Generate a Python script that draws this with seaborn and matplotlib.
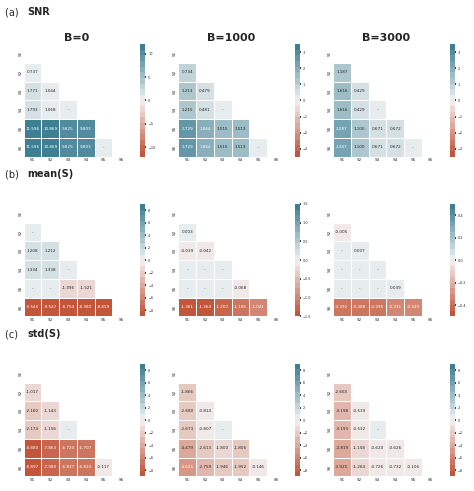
import numpy as np
import matplotlib
matplotlib.use("Agg")
import matplotlib.pyplot as plt
import seaborn as sns

labels = ["S1", "S2", "S3", "S4", "S5", "S6"]
blocks = ["B=0", "B=1000", "B=3000"]
N = None  # not significant, shown as "-"

snr_b0 = [[0.737], [1.771, 1.044], [1.793, 1.068, N],
          [11.596, 10.869, 9.825, 9.803], [11.596, 10.869, 9.825, 9.803, N]]
snr_b1000 = [[0.734], [1.213, 0.479], [1.215, 0.481, N],
             [2.729, 1.864, 1.515, 1.513], [2.729, 1.864, 1.515, 1.513, N]]
snr_b3000 = [[1.187], [1.616, 0.429], [1.616, 0.429, N],
             [2.287, 1.100, 0.671, 0.672], [2.287, 1.100, 0.671, 0.672, N]]

mean_b0 = [[N], [1.208, 1.212], [1.334, 1.338, N],
           [N, N, -1.396, -1.521], [-9.544, -9.542, -8.754, -8.38, -8.859]]
mean_b1000 = [[0.003], [-0.039, -0.042], [N, N, N],
              [N, N, N, -0.068], [-1.361, -1.364, -1.202, -1.106, -1.041]]
mean_b3000 = [[-0.005], [N, 0.007], [N, N, N],
              [N, N, N, 0.039], [-0.392, -0.388, -0.395, -0.331, -0.349]]

std_b0 = [[-1.017], [-2.160, -1.143], [-2.174, -1.156, N],
          [-8.880, -7.863, -6.720, -6.707], [-8.897, -7.980, -6.837, -6.824, -0.117]]
std_b1000 = [[-1.866], [-2.680, -0.814], [-2.673, -0.807, N],
             [-4.479, -2.613, -1.800, -1.806], [-4.625, -2.759, -1.946, -1.952, -0.146]]
std_b3000 = [[-2.660], [-3.198, -0.539], [-3.193, -0.532, N],
             [-3.819, -1.158, -0.620, -0.626], [-3.925, -1.264, -0.726, -0.732, -0.106]]

rows = [("(a) ", "SNR", [snr_b0, snr_b1000, snr_b3000], [12, 3.5, 3.5]),
        ("(b) ", "mean(S)", [mean_b0, mean_b1000, mean_b3000], [9, 1.5, 0.5]),
        ("(c) ", "std(S)", [std_b0, std_b1000, std_b3000], [9, 9, 9])]

cmap = matplotlib.colors.ListedColormap(sns.diverging_palette(20, 220, n=20))

sns.set_theme(style="white")
fig, axes = plt.subplots(3, 3, figsize=(4.74, 4.91), dpi=100)
plt.subplots_adjust(left=0.05, right=0.97, top=0.91, bottom=0.03, hspace=0.42, wspace=0.22)

for r, (pre, name, mats, lims) in enumerate(rows):
    for c in range(3):
        ax = axes[r, c]
        vals = np.full((6, 6), np.nan)
        annot = np.full((6, 6), "", dtype=object)
        for i, row in enumerate(mats[c]):
            for j, v in enumerate(row):
                vals[i + 1, j] = 0.0 if v is None else v
                annot[i + 1, j] = "-" if v is None else f"{v:.3f}"
        sns.heatmap(vals, mask=np.isnan(vals), cmap=cmap, vmin=-lims[c], vmax=lims[c],
                    annot=annot, fmt="", annot_kws={"size": 3},
                    linewidths=0.4, linecolor="white", square=False, ax=ax,
                    xticklabels=labels, yticklabels=labels,
                    cbar_kws={"fraction": 0.08, "pad": 0.08, "aspect": 22})
        ax.tick_params(labelsize=3, length=0, pad=1)
        ax.set_xticklabels(labels, rotation=0)
        ax.set_yticklabels(labels, rotation=90, va="center")
        cb = ax.collections[0].colorbar
        cb.ax.tick_params(labelsize=2.5, length=1, pad=1)
        cb.outline.set_visible(False)
        if r == 0:
            ax.set_title(blocks[c], fontsize=8, fontweight="bold", pad=2)
    y = 0.965 if r == 0 else axes[r, 0].get_position().y1 + 0.05
    fig.text(0.01, y, pre, fontsize=7, va="bottom")
    fig.text(0.058, y, name, fontsize=7, fontweight="bold", va="bottom")

fig.savefig("out.png", dpi=100)
